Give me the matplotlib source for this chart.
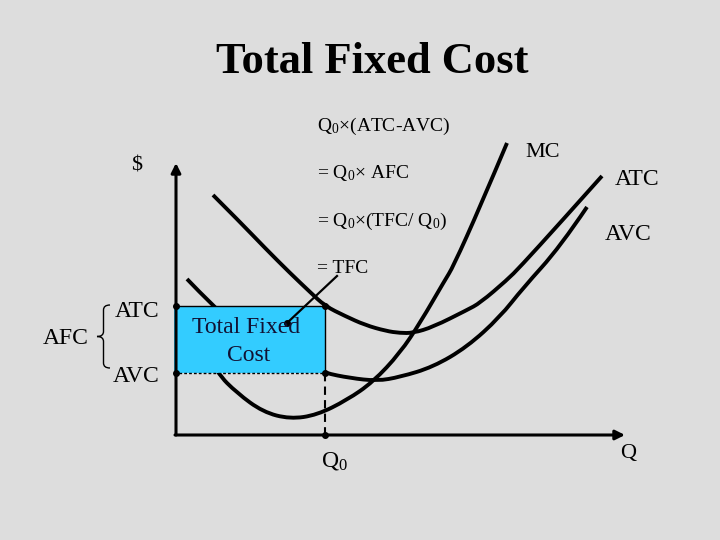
import matplotlib
matplotlib.use("Agg")
import matplotlib.pyplot as plt
from matplotlib.patches import Rectangle, PathPatch
from matplotlib.path import Path

plt.rcParams['font.family'] = ['Liberation Serif', 'DejaVu Serif']
plt.rcParams['mathtext.fontset'] = 'custom'
plt.rcParams['mathtext.rm'] = 'Liberation Serif'
plt.rcParams['mathtext.it'] = 'Liberation Serif:italic'

# cost curves (Q along the axis, $ up the axis)
atc_q = [37, 64, 89, 114, 134, 149, 169, 189, 210, 224, 237, 257, 291, 304, 331, 344, 384, 426]
atc_c = [240, 213, 187, 162, 143, 129, 119, 110, 104, 102, 102, 108, 125, 132, 155, 168, 212, 259]

avc_q = [11, 37, 64, 94, 124, 149, 174, 201, 224, 257, 291, 324, 347, 384, 411]
avc_c = [156, 129, 105, 85, 71, 62, 57, 54, 58, 68, 88, 118, 147, 188, 228]

mc_q = [29, 41, 61, 87, 114, 141, 171, 197, 224, 244, 269, 277, 304, 331]
mc_c = [85, 62, 42, 23, 16, 20, 35, 53, 82, 112, 155, 168, 228, 292]

q0 = 149
atc_q0 = 129
avc_q0 = 62

BG = '#dddddd'
W, H = 720, 540

fig = plt.figure(figsize=(7.2, 5.4), dpi=100, facecolor=BG)
ax = fig.add_axes([0, 0, 1, 1])
ax.set_facecolor(BG)
# origin of the diagram sits at pixel (176, 435)
ax.set_xlim(-176, W - 176)
ax.set_ylim(435 - H, 435)
ax.axis('off')


def ftext(px, py, s, **kw):
    kw.setdefault('va', 'baseline')
    kw.setdefault('ha', 'left')
    fig.text(px / W, 1 - py / H, s, **kw)


def curve(xs, ys, z):
    # quadratic b-spline through the read points, so the curve is drawn smooth
    pts = list(zip(xs, ys))
    verts = [pts[0]]
    codes = [Path.MOVETO]
    for i in range(1, len(pts) - 1):
        nxt = pts[i + 1] if i == len(pts) - 2 else (
            (pts[i][0] + pts[i + 1][0]) / 2, (pts[i][1] + pts[i + 1][1]) / 2)
        verts += [pts[i], nxt]
        codes += [Path.CURVE3, Path.CURVE3]
    ax.add_patch(PathPatch(Path(verts, codes), facecolor='none', edgecolor='black',
                           lw=2.8, capstyle='butt', zorder=z))


curve(avc_q, avc_c, 2)
curve(mc_q, mc_c, 2)

# total fixed cost box
ax.add_patch(Rectangle((-2, avc_q0), q0 + 2, atc_q0 - avc_q0,
                       facecolor='#33ccff', edgecolor='none', zorder=3))
ax.plot([-2, q0, q0], [atc_q0, atc_q0, avc_q0], color='black', lw=1, zorder=4)
ax.plot([-2, q0], [avc_q0, avc_q0], color='black', lw=1, ls=(0, (2, 1.5)), zorder=4)
ax.plot([q0, q0], [avc_q0, 0], color='black', lw=1.5, ls=(0, (4, 2.5)), zorder=4)

curve(atc_q, atc_c, 5)

# axes with arrow heads
arr = dict(arrowstyle='-|>', lw=2.2, color='black', mutation_scale=14,
           shrinkA=0, shrinkB=0)
ax.annotate('', xy=(0, 272), xytext=(0, 0), arrowprops=arr, zorder=6)
ax.annotate('', xy=(449, 0), xytext=(-1, 0), arrowprops=arr, zorder=6)

# dots at the corners
ax.plot([0, 0, q0, q0, q0], [atc_q0, avc_q0, atc_q0, avc_q0, 0], 'o',
        color='black', ms=4, zorder=7)

# pointer from "= TFC" into the box
ax.plot([161, 111], [159, 112], color='black', lw=1.6, zorder=7)
ax.plot([111], [112], 'o', color='black', ms=4, zorder=7)

# brace grouping ATC / AVC into AFC
x0, x1 = -79, -66
xm = (x0 + x1) / 2
top, bot = atc_q0 + 1, avc_q0 + 5
mid = (top + bot) / 2
d = 5
verts = [(x1, top), (xm, top), (xm, top - d),
         (xm, mid + d), (xm, mid), (x0, mid),
         (xm, mid), (xm, mid - d),
         (xm, bot + d), (xm, bot), (x1, bot)]
codes = [Path.MOVETO, Path.CURVE3, Path.CURVE3,
         Path.LINETO, Path.CURVE3, Path.CURVE3,
         Path.CURVE3, Path.CURVE3,
         Path.LINETO, Path.CURVE3, Path.CURVE3]
ax.add_patch(PathPatch(Path(verts, codes), facecolor='none', edgecolor='black', lw=1))

# texts
ftext(372, 73, 'Total Fixed Cost', ha='center', fontsize=32, fontweight='bold')
ftext(131, 171, '$', fontsize=16)

ftext(317, 131, 'Q$_0$×(ATC-AVC)', fontsize=14)
ftext(317, 178, '= Q$_0$× AFC', fontsize=14)
ftext(317, 226, '= Q$_0$×(TFC/ Q$_0$)', fontsize=14)
ftext(317, 273, '= TFC', fontsize=14)

ftext(525, 157, 'MC', fontsize=16)
ftext(615, 185, 'ATC', fontsize=17)
ftext(605, 240, 'AVC', fontsize=17)

ftext(115, 317, 'ATC', fontsize=17)
ftext(113, 382, 'AVC', fontsize=17)
ftext(43, 344, 'AFC', fontsize=17)

ftext(246, 333, 'Total Fixed', ha='center', fontsize=17, color='#111133', zorder=8)
ftext(249, 361, 'Cost', ha='center', fontsize=17, color='#111133', zorder=8)

ftext(321, 467, 'Q$_0$', fontsize=17)
ftext(620, 458, 'Q', fontsize=16)

fig.savefig('out.png', dpi=100, facecolor=BG)
